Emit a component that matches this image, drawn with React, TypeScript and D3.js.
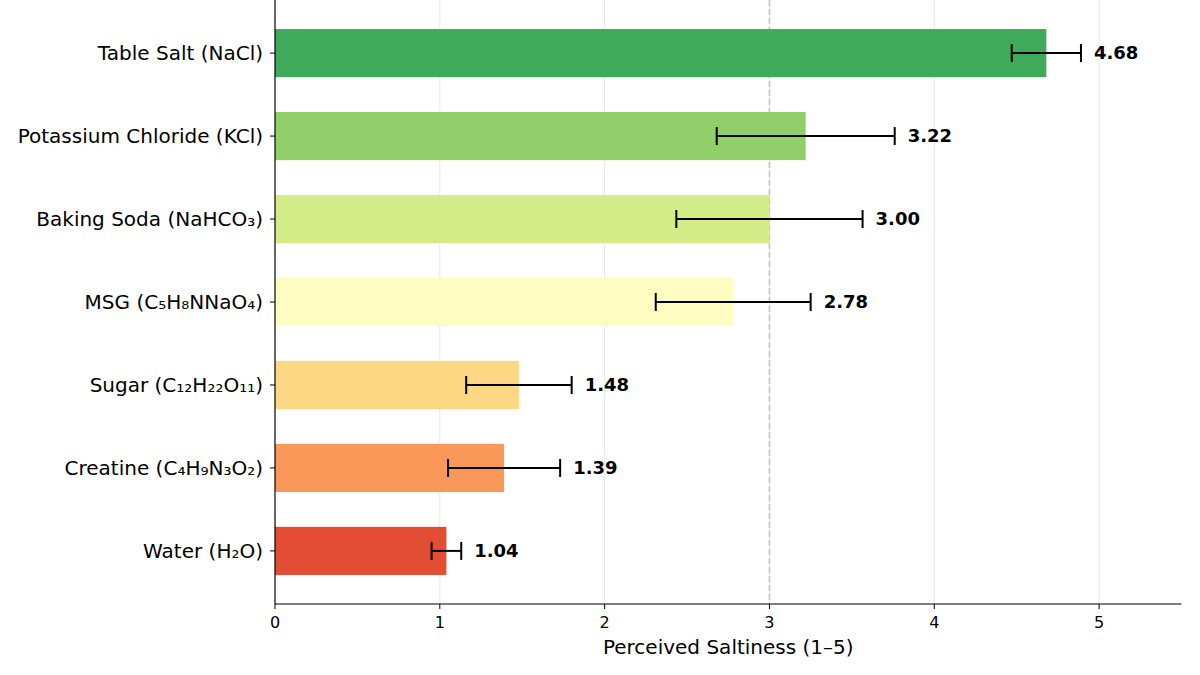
import React from "react";
import * as d3 from "d3";

const categories = [
  "Table Salt (NaCl)",
  "Potassium Chloride (KCl)",
  "Baking Soda (NaHCO₃)",
  "MSG (C₅H₈NNaO₄)",
  "Sugar (C₁₂H₂₂O₁₁)",
  "Creatine (C₄H₉N₃O₂)",
  "Water (H₂O)",
];
const values = [4.68, 3.22, 3.0, 2.78, 1.48, 1.39, 1.04];
const errors = [0.21, 0.54, 0.565, 0.47, 0.32, 0.34, 0.09];
const colors = ["#3faa5a", "#91cf6a", "#d3ec87", "#fefcc0", "#fdd784", "#f99858", "#e34d34"];
const xTicks = [0, 1, 2, 3, 4, 5];

const W = 1200;
const H = 675;
const left = 275;
const right = 1181.5;
const top = 0;
const bottom = 604;

export default function App() {
  const x = d3.scaleLinear().domain([0, 5.5]).range([left, right]);
  const n = categories.length;
  const y = d3.scaleLinear().domain([n - 1 + 0.64, -0.64]).range([bottom, top]);
  const step = Math.abs(y(1) - y(0));
  const barH = step * 0.58;
  const cap = 9;
  const font = "'DejaVu Sans', sans-serif";

  return (
    <svg width={W} height={H} style={{ position: "absolute", left: 0, top: 0, background: "#fff" }}>
      <rect x={0} y={0} width={W} height={H} fill="#fff" />
      {xTicks.slice(1).map((t) => (
        <line key={"g" + t} x1={x(t)} x2={x(t)} y1={top} y2={bottom} stroke="#e6e6e6" strokeWidth={1} />
      ))}
      <line x1={x(3)} x2={x(3)} y1={top} y2={bottom} stroke="#c4c4c4" strokeWidth={1.6} strokeDasharray="6,3" />
      {categories.map((c, i) => {
        const cy = y(i);
        const v = values[i];
        const e = errors[i];
        return (
          <g key={c}>
            <rect x={x(0)} y={cy - barH / 2} width={x(v) - x(0)} height={barH} fill={colors[i]} />
            <line x1={x(v - e)} x2={x(v + e)} y1={cy} y2={cy} stroke="#000" strokeWidth={2} />
            <line x1={x(v - e)} x2={x(v - e)} y1={cy - cap} y2={cy + cap} stroke="#000" strokeWidth={2} />
            <line x1={x(v + e)} x2={x(v + e)} y1={cy - cap} y2={cy + cap} stroke="#000" strokeWidth={2} />
            <text x={x(v + e) + 13} y={cy} dy="0.35em" fontFamily={font} fontSize={18} fontWeight="bold" fill="#000">
              {v.toFixed(2)}
            </text>
            <line x1={left} x2={left - 5} y1={cy} y2={cy} stroke="#000" strokeWidth={1} />
            <text x={left - 12} y={cy} dy="0.35em" textAnchor="end" fontFamily={font} fontSize={20} fill="#000">
              {c}
            </text>
          </g>
        );
      })}
      <line x1={left} x2={left} y1={top} y2={bottom} stroke="#000" strokeWidth={1.2} />
      <line x1={left} x2={right} y1={bottom} y2={bottom} stroke="#000" strokeWidth={1.2} />
      {xTicks.map((t) => (
        <g key={"t" + t}>
          <line x1={x(t)} x2={x(t)} y1={bottom} y2={bottom + 5} stroke="#000" strokeWidth={1} />
          <text x={x(t)} y={bottom + 18} dy="0.35em" textAnchor="middle" fontFamily={font} fontSize={16} fill="#000">
            {t}
          </text>
        </g>
      ))}
      <text x={(left + right) / 2} y={647} dy="0.35em" textAnchor="middle" fontFamily={font} fontSize={20} fill="#000">
        Perceived Saltiness (1–5)
      </text>
    </svg>
  );
}
